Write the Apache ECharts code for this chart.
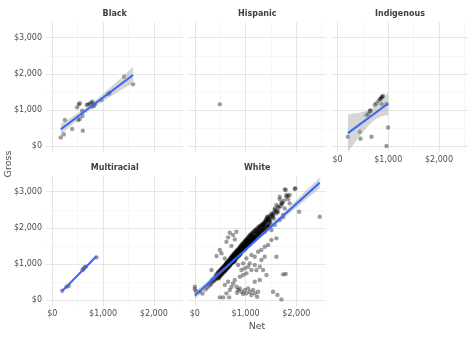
<!DOCTYPE html>
<html><head><meta charset="utf-8">
<script src="https://cdn.jsdelivr.net/npm/echarts@6/dist/echarts.min.js"></script>
<style>html,body{margin:0;padding:0;background:#fff}#c{width:474px;height:338px}</style>
</head><body><div id="c"></div>
<script>
// ---------- data (Net, Gross) ----------
const panelNames = ['Black', 'Hispanic', 'Indigenous', 'Multiracial', 'White'];

const blackPoints = [[167,240],[226,323],[246,720],[390,470],[488,1072],[522,1155],[541,1183],[508,720],[541,748],[587,978],[594,831],[600,424],[679,1135],[705,1155],[738,1172],[772,1200],[791,1228],[803,1155],[823,1116],[837,1155],[784,1090],[968,1274],[1099,1440],[1132,1476],[1413,1920],[1591,1709]];

const hispanicPoints = [[492,1155]];

const indigenousPoints = [[205,258],[439,396],[452,205],[669,258],[964,0],[997,515],[571,855],[603,886],[636,960],[650,985],[645,975],[734,1136],[767,1183],[810,1255],[840,1300],[850,1310],[866,1349],[880,1365],[898,1385],[872,1160],[964,1163]];

const multiracialPoints = [[193,258],[279,369],[325,397],[594,831],[615,860],[640,905],[660,925],[870,1182]];

const whiteBand = [
[305,470],[318,430],[325,520],[342,560],[350,500],[362,575],[371,530],[388,610],[395,555],
[402,640],[408,585],[415,700],[421,655],[433,620],[440,715],[447,670],[455,600],[462,735],[470,690],[478,650],[486,760],[493,715],[498,680],
[503,745],[509,820],[514,700],[522,790],[528,860],[533,760],[541,835],[547,890],[552,780],[558,845],[566,910],[571,800],[577,870],[584,930],[590,820],[596,880],
[604,950],[609,860],[615,1000],[621,915],[627,975],[633,880],[640,1040],[646,940],[651,1010],[657,900],[663,1065],[669,975],[676,1030],[682,940],[688,1090],[694,1000],[699,1050],
[705,1120],[709,1020],[714,1170],[720,1075],[726,1140],[731,1050],[737,1200],[743,1105],[748,1160],[754,1060],[760,1230],[766,1130],[771,1185],[777,1090],[783,1255],[789,1150],[794,1210],[799,1120],
[805,1280],[810,1180],[816,1320],[822,1230],[828,1290],[833,1200],[839,1350],[845,1250],[851,1310],[856,1215],[862,1380],[868,1280],[873,1335],[879,1240],[885,1400],[891,1300],[896,1360],[899,1270],
[904,1430],[909,1330],[915,1470],[921,1380],[927,1440],[932,1350],[938,1500],[944,1400],[949,1460],[955,1370],[961,1530],[967,1430],[972,1485],[978,1390],[984,1550],[990,1450],[995,1505],[999,1420],
[1004,1580],[1010,1480],[1016,1620],[1022,1530],[1028,1590],[1034,1500],[1040,1650],[1046,1550],[1052,1610],[1058,1520],[1064,1680],[1070,1580],[1076,1635],[1082,1540],[1088,1700],[1094,1600],[1099,1650],
[1105,1730],[1111,1630],[1118,1770],[1125,1680],[1131,1740],[1138,1650],[1145,1800],[1151,1700],[1158,1760],[1165,1670],[1172,1830],[1179,1730],[1186,1790],[1193,1700],
[1205,1880],[1213,1780],[1221,1920],[1229,1830],[1237,1890],[1246,1800],[1254,1950],[1262,1850],[1271,1910],[1280,1820],[1289,1980],[1297,1880],
[1306,2030],[1316,1930],[1326,2070],[1337,1980],[1348,2040],[1359,1950],[1370,2100],[1382,2000],[1393,2060],
[1405,2180],[1418,2080],[1432,2220],[1446,2130],[1461,2190],[1476,2216],[1490,2150]
];
const whiteBand2 = [
[452,760],[458,600],[466,780],[474,620],[481,800],[489,640],[496,820],
[506,690],[512,830],[519,700],[526,860],[535,720],[543,880],[549,740],[556,900],[563,760],[569,920],[575,780],[582,950],[588,800],[594,960],
[601,820],[607,990],[613,840],[619,1010],[625,860],[631,1030],[637,880],[643,1050],[649,900],[655,1070],[661,920],[667,1090],[673,940],[679,1110],[685,960],[691,1130],[697,980],
[702,1160],[708,990],[713,1180],[719,1010],[725,1200],[732,1030],[738,1220],[744,1050],[750,1240],[756,1070],[762,1260],[768,1090],[774,1280],[780,1110],[786,1300],[792,1130],[798,1320],
[803,1140],[808,1330],[814,1160],[820,1350],[826,1180],[832,1370],[838,1200],[844,1390],[850,1220],[857,1410],[863,1240],[869,1430],[875,1260],[881,1450],[887,1280],[893,1470],[898,1300],
[903,1490],[908,1310],[914,1510],[920,1330],[926,1530],[932,1350],[938,1550],[944,1370],[950,1570],[957,1390],[963,1590],[969,1410],[975,1610],[981,1430],[987,1630],[993,1450],[998,1650],
[1003,1460],[1009,1660],[1015,1480],[1021,1680],[1027,1500],[1033,1700],[1039,1520],[1045,1720],[1051,1540],[1057,1740],[1063,1560],[1069,1760],[1075,1580],[1081,1780],[1087,1600],[1093,1800],[1098,1620],
[1103,1810],[1110,1630],[1117,1840],[1124,1650],[1131,1860],[1139,1670],[1147,1880],[1155,1690],[1163,1900],[1171,1710],[1179,1920],[1187,1720],[1195,1940],
[1203,1750],[1212,1960],[1222,1770],[1232,1990],[1242,1800],[1252,2010],[1262,1830],[1272,2040],[1283,1860],[1294,2060],
[1305,1880],[1318,2090],[1331,1910],[1344,2120],[1357,1940],[1371,2150],[1385,1970],
[1402,2240],[1420,2010],[1438,2290],[1455,2060],[1472,2330],[1488,2100]
];
const whiteUpper = [[1509,1939],[1542,2355],[1575,2539],[1575,2078],[1608,2400],[1640,2585],[1673,2789],[1673,2216],[1719,2659],[1739,2355],[1771,2539],[1791,3047],[1804,2862],[1837,2789],[1870,2678],[1969,3075],[1424,2308],[1378,2170],[1345,2078],[1280,2031],[1444,2031],[1520,2300],[1555,2250],[1620,2450],
[1772,3066],[1982,3094],[1805,2908],[1837,2881],[1673,2862],[1706,2678],[1608,2632],[1575,2493],[1640,2446],[1509,2401],[1542,2308],[1476,2216],[1411,2170],[1444,2031],[1345,2031],[1312,1939],[1247,1847],[1378,1893],[1739,2290],[1870,2908],
[1460,2250],[1490,2330],[1525,2380],[1560,2420],[1590,2470],[1655,2560],[1690,2600],[1720,2700],[1755,2750],[1400,2200],[1430,2270],[1360,2110],
[689,1865],[755,1800],[656,1736],[623,1616],[787,1680],[820,1892],[492,1385],[427,1219],[525,1293],[328,831],[590,1150],[720,1500]];
const whiteNearOrigin = [[0,370],[0,300],[25,240],[95,230],[150,180],[210,290],[250,350],[280,400]];
const whiteLower = [[755,462],[787,554],[820,369],[853,277],[833,203],[886,323],[919,231],[951,166],[984,277],[1017,185],[1050,323],[1083,231],[1115,139],[1148,277],[1181,185],[1227,92],[1247,231],[623,185],[689,277],[722,369],[492,74],[558,74],[676,74],[591,415],[656,508],[886,646],[951,692],[1017,739],[919,831],[984,877],[1050,923],[1115,831],[1083,1016],[1181,970],[1214,831],[1280,923],[1312,1108],[1378,1200],[1345,831],[1411,692],[1280,554],[1181,508],[853,970],[787,1062],[951,1016],[1017,1154],[1115,1247],[1181,1200],[1247,1339],[1312,1385],[1378,1477],[1444,1524],[1509,1662],[1608,1708],[1608,1200],[1739,711],[1791,720],[1542,231],[1627,139],[1706,18],[2054,2447],[2461,2308]];
const whitePoints = whiteBand.concat(whiteBand2, whiteUpper, whiteNearOrigin, whiteLower);

const panelPoints = [blackPoints, hispanicPoints, indigenousPoints, multiracialPoints, whitePoints];

// ticks
const xMajorTicks = [0, 1000, 2000];
const xMinorTicks = [500, 1500, 2500];
const yMajorTicks = [0, 1000, 2000, 3000];
const yMinorTicks = [500, 1500, 2500];
const xRange = [-125, 2585];
const yRange = [-165, 3435];

// ---------- layout ----------
const grids = [
  {left: 46, top: 22, width: 137.5, height: 130},
  {left: 188.5, top: 22, width: 137.5, height: 130},
  {left: 331.2, top: 22, width: 137.5, height: 130},
  {left: 46, top: 176, width: 137.5, height: 130},
  {left: 188.5, top: 176, width: 137.5, height: 130}
];
const showYLabels = [true, false, false, true, false];
const showXLabels = [false, false, true, true, true];

const FONT = 'DejaVu Sans';
const fmt = v => '$' + Math.round(v).toLocaleString('en-US');

function tQuant(df) {
  const z = 1.959964;
  return z + (z*z*z + z) / (4*df) + (5*Math.pow(z,5) + 16*z*z*z + 3*z) / (96*df*df)
    + (3*Math.pow(z,7) + 19*Math.pow(z,5) + 17*z*z*z - 15*z) / (384*df*df*df);
}
function lmFit(pts) {
  const n = pts.length;
  if (n < 3) return null;
  let mx = 0, my = 0;
  pts.forEach(p => { mx += p[0]; my += p[1]; });
  mx /= n; my /= n;
  let sxx = 0, sxy = 0;
  pts.forEach(p => { sxx += (p[0]-mx)*(p[0]-mx); sxy += (p[0]-mx)*(p[1]-my); });
  const b = sxy / sxx, a = my - b*mx;
  let sse = 0;
  pts.forEach(p => { const r = p[1] - (a + b*p[0]); sse += r*r; });
  const s = Math.sqrt(sse / (n-2));
  const t = tQuant(n-2);
  const xs = pts.map(p => p[0]);
  const x0 = Math.min.apply(null, xs), x1 = Math.max.apply(null, xs);
  const line = [], upper = [], lower = [];
  const K = 80;
  for (let k = 0; k <= K; k++) {
    const x = x0 + (x1 - x0) * k / K;
    const yh = a + b*x;
    const se = s * Math.sqrt(1/n + (x-mx)*(x-mx)/sxx);
    line.push([x, yh]); upper.push([x, yh + t*se]); lower.push([x, yh - t*se]);
  }
  return {a, b, line, upper, lower};
}

const xAxes = [], yAxes = [], series = [];
grids.forEach((g, i) => {
  xAxes.push({
    type: 'value', gridIndex: i, min: xRange[0], max: xRange[1],
    axisLine: {show: false}, axisTick: {show: false}, splitLine: {show: false},
    axisLabel: {show: showXLabels[i], customValues: xMajorTicks, formatter: fmt,
      color: '#4d4d4d', fontFamily: FONT, fontSize: 8, margin: 4}
  });
  yAxes.push({
    type: 'value', gridIndex: i, min: yRange[0], max: yRange[1],
    axisLine: {show: false}, axisTick: {show: false}, splitLine: {show: false},
    axisLabel: {show: showYLabels[i], customValues: yMajorTicks, formatter: fmt,
      color: '#4d4d4d', fontFamily: FONT, fontSize: 8, margin: 4}
  });
  const gl = [];
  xMinorTicks.forEach(v => gl.push({xAxis: v, lineStyle: {color: '#f1f1f1', width: 0.6, type: 'solid'}}));
  yMinorTicks.forEach(v => gl.push({yAxis: v, lineStyle: {color: '#f1f1f1', width: 0.6, type: 'solid'}}));
  xMajorTicks.forEach(v => gl.push({xAxis: v, lineStyle: {color: '#e6e6e6', width: 1, type: 'solid'}}));
  yMajorTicks.forEach(v => gl.push({yAxis: v, lineStyle: {color: '#e6e6e6', width: 1, type: 'solid'}}));
  series.push({
    type: 'line', xAxisIndex: i, yAxisIndex: i, data: [], z: 0, zlevel: 0, silent: true,
    markLine: {silent: true, z: 0, symbol: ['none', 'none'], label: {show: false}, animation: false, data: gl}
  });
  series.push({
    type: 'scatter', xAxisIndex: i, yAxisIndex: i, data: panelPoints[i], z: 2,
    symbolSize: 4.4, itemStyle: {color: 'rgba(0,0,0,0.48)'}, silent: true
  });
  const fit = lmFit(panelPoints[i]);
  if (fit) {
    series.push({
      type: 'custom', xAxisIndex: i, yAxisIndex: i, z: 3, silent: true, clip: true,
      data: [[fit.line[0][0], fit.line[0][1]]],
      renderItem: (params, api) => {
        const pts = fit.upper.map(p => api.coord(p)).concat(fit.lower.slice().reverse().map(p => api.coord(p)));
        return {type: 'polygon', shape: {points: pts}, style: {fill: 'rgba(153,153,153,0.4)'}};
      }
    });
    series.push({
      type: 'line', xAxisIndex: i, yAxisIndex: i, data: [fit.line[0], fit.line[fit.line.length-1]], z: 4,
      showSymbol: false, silent: true, lineStyle: {color: '#3366FF', width: 2}
    });
  }
});

const stripText = panelNames.map((name, i) => ({
  type: 'text', x: grids[i].left + grids[i].width/2, y: grids[i].top - 8,
  style: {text: name, fill: '#404040', font: 'bold 8px "DejaVu Sans"', textAlign: 'center', textVerticalAlign: 'middle'}
}));

const chart = echarts.init(document.getElementById('c'), null, {renderer: 'canvas'});
chart.setOption({
  animation: false,
  backgroundColor: '#ffffff',
  grid: grids,
  xAxis: xAxes,
  yAxis: yAxes,
  series: series,
  graphic: stripText.concat([
    {type: 'text', x: 257, y: 327, style: {text: 'Net', fill: '#4d4d4d', font: '9.5px "DejaVu Sans"', textAlign: 'center', textVerticalAlign: 'middle'}},
    {type: 'text', x: 9, y: 164, rotation: Math.PI/2, style: {text: 'Gross', fill: '#4d4d4d', font: '9.5px "DejaVu Sans"', textAlign: 'center', textVerticalAlign: 'middle'}}
  ])
});
</script></body></html>
